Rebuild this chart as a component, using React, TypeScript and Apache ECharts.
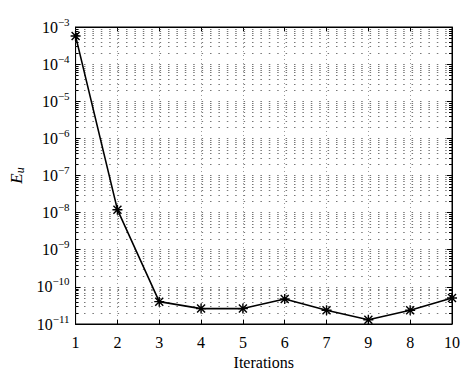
import React, { useEffect, useRef } from "react";
import * as echarts from "echarts";

const xLabels = ["1", "2", "3", "4", "5", "6", "7", "9", "8", "10"];
const errValues = [5.7e-4, 1.2e-8, 4.0e-11, 2.6e-11, 2.6e-11, 4.7e-11, 2.35e-11, 1.3e-11, 2.35e-11, 5.0e-11];
const decadeExps = [-11, -10, -9, -8, -7, -6, -5, -4];
const minorMultipliers = [2, 3, 4, 5, 6, 7, 8, 9];

const FONT = "'Liberation Serif', 'DejaVu Serif', serif";
const ASTERISK =
  "path://M4.3 0 L5.7 0 L5.7 10 L4.3 10 Z M0 4.3 L10 4.3 L10 5.7 L0 5.7 Z M1.5 0.5 L9.5 8.5 L8.5 9.5 L0.5 1.5 Z M8.5 0.5 L9.5 1.5 L1.5 9.5 L0.5 8.5 Z";

export default function App() {
  const ref = useRef<HTMLDivElement>(null);
  useEffect(() => {
    if (!ref.current) return;
    const chart = echarts.init(ref.current, null, { renderer: "svg" });
    const minorValues: number[] = [];
    decadeExps.forEach((e) => {
      minorMultipliers.forEach((m) => minorValues.push(m * Math.pow(10, e)));
    });
    const DASH = [1.5, 6.9];
    const GRID_COLOR = "#777777";
    const hDot = { type: DASH as any, color: GRID_COLOR, width: 1.2 };
    const vDot = { type: [1, 3] as any, color: "#999999", width: 1 };
    chart.setOption({
      animation: false,
      backgroundColor: "#fff",
      grid: {
        left: 74,
        right: 22,
        top: 27,
        bottom: 65,
        show: true,
        borderColor: "#000",
        borderWidth: 1,
        backgroundColor: "transparent",
      },
      xAxis: [
        {
          type: "category",
          data: xLabels,
          boundaryGap: false,
          position: "bottom",
          axisLine: { lineStyle: { color: "#000", width: 1 } },
          axisTick: { inside: true, alignWithLabel: true, length: 4, lineStyle: { color: "#000" } },
          axisLabel: { color: "#000", fontSize: 16, fontFamily: FONT, margin: 10 },
          splitLine: { show: false },
          name: "Iterations",
          nameLocation: "middle",
          nameGap: 29,
          nameTextStyle: { color: "#000", fontSize: 16, fontFamily: FONT },
        },
        {
          type: "value",
          min: 1,
          max: 10,
          interval: 1,
          position: "top",
          axisLine: { show: true, lineStyle: { color: "#000" } },
          axisTick: { show: true, inside: true, length: 4, lineStyle: { color: "#000" } },
          axisLabel: { show: false },
          splitLine: { show: true, lineStyle: vDot },
        },
      ],
      yAxis: [
        {
          type: "log",
          logBase: 10,
          min: 1e-11,
          max: 1e-3,
          interval: 1,
          position: "left",
          axisLine: { show: true, lineStyle: { color: "#000" } },
          axisTick: { show: true, inside: true, length: 5, lineStyle: { color: "#000" } },
          axisLabel: {
            margin: 6,
            formatter: (v: number) => {
              const e = Math.round(Math.log10(v));
              return `{b|10}{s|\u2212${-e}}`;
            },
            rich: {
              b: { fontSize: 16, fontFamily: FONT, color: "#000" },
              s: { fontSize: 11, fontFamily: FONT, color: "#000", padding: [0, 0, 11, 0] },
            },
          },
          splitLine: { show: true, lineStyle: hDot },
          name: "{e|E}{u|u}",
          nameLocation: "middle",
          nameGap: 41,
          nameTextStyle: {
            rich: {
              e: { fontSize: 17, fontFamily: FONT, fontStyle: "italic", color: "#000" },
              u: { fontSize: 12, fontFamily: FONT, fontStyle: "italic", color: "#000", padding: [6, 0, 0, 0] },
            },
          },
        },
        {
          type: "log",
          logBase: 10,
          min: 1e-11,
          max: 1e-3,
          interval: 1,
          position: "right",
          axisLine: { show: true, lineStyle: { color: "#000" } },
          axisTick: { show: true, inside: true, length: 5, lineStyle: { color: "#000" } },
          axisLabel: { show: false },
          splitLine: { show: false },
        },
      ],
      series: [
        {
          type: "custom",
          xAxisIndex: 1,
          yAxisIndex: 0,
          silent: true,
          z: 1,
          data: minorValues.map((v) => [1, v]),
          renderItem: (params: any, api: any) => {
            const v = api.value(1);
            const p1 = api.coord([1, v]);
            const p2 = api.coord([10, v]);
            const y = Math.round(p1[1]) + 0.5;
            return {
              type: "group",
              children: [
                {
                  type: "line",
                  shape: { x1: p1[0], y1: y, x2: p2[0], y2: y },
                  style: { stroke: GRID_COLOR, lineWidth: 1.2, lineDash: DASH },
                },
                {
                  type: "line",
                  shape: { x1: p1[0], y1: y, x2: p1[0] + 3, y2: y },
                  style: { stroke: "#000", lineWidth: 1 },
                },
                {
                  type: "line",
                  shape: { x1: p2[0] - 3, y1: y, x2: p2[0], y2: y },
                  style: { stroke: "#000", lineWidth: 1 },
                },
              ],
            };
          },
        },
        {
          type: "line",
          xAxisIndex: 0,
          yAxisIndex: 0,
          data: errValues,
          symbol: ASTERISK,
          symbolSize: 10,
          showAllSymbol: true,
          lineStyle: { color: "#000", width: 1.6 },
          itemStyle: { color: "#000" },
          z: 5,
        },
      ],
    });
    return () => chart.dispose();
  }, []);
  return (
    <div
      ref={ref}
      style={{ position: "fixed", left: 0, top: 0, width: 474, height: 389 }}
    />
  );
}
